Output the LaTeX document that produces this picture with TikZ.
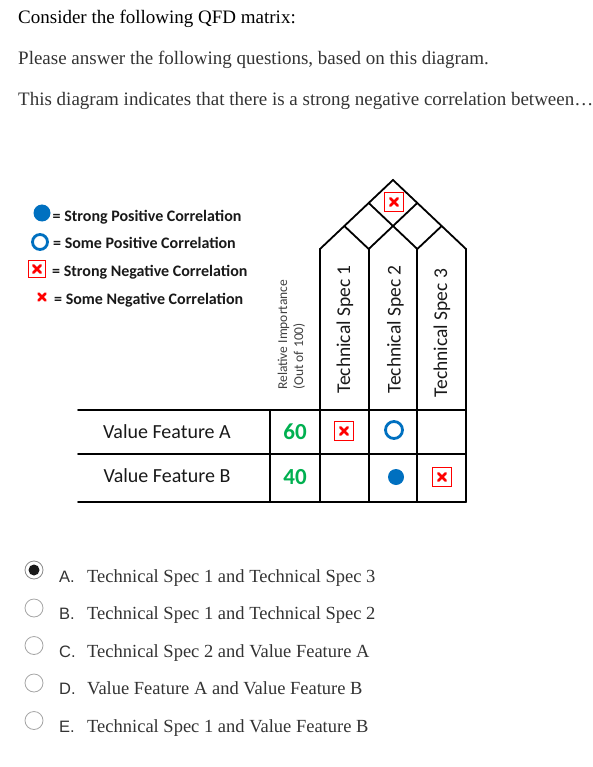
\documentclass[tikz,border=0pt]{standalone}
\usepackage{fontspec}
\setmainfont{Liberation Serif}
\newfontfamily\calib{Carlito}
\newfontfamily\arialf{Liberation Sans}
\definecolor{qblue}{HTML}{0070C0}
\definecolor{qred}{HTML}{FF0000}
\definecolor{qgreen}{HTML}{00B050}
\definecolor{qtext}{HTML}{333333}
\begin{document}
\begin{tikzpicture}[x=1pt,y=-1pt,
  grid/.style={line width=1.8pt, black, line cap=round, line join=miter},
  negbox/.style={draw=qred, line width=1.2pt, minimum width=#1, minimum height=#1, inner sep=0pt,
    path picture={\draw[qred, line width=2.8pt, line cap=round]
      ([shift={(-3.6pt,-3.6pt)}]path picture bounding box.center) -- ([shift={(3.6pt,3.6pt)}]path picture bounding box.center)
      ([shift={(-3.6pt,3.6pt)}]path picture bounding box.center) -- ([shift={(3.6pt,-3.6pt)}]path picture bounding box.center);}},
  negbox/.default=18pt,
  strongpos/.style={circle, fill=qblue, minimum size=16pt, inner sep=0pt},
  somepos/.style={circle, draw=qblue, line width=2.8pt, fill=white, minimum size=15pt, inner sep=0pt},
  qtxt/.style={anchor=base west, font=\fontsize{19}{22}\selectfont, text=qtext, inner sep=0pt},
  opttxt/.style={anchor=base west, font=\fontsize{18.5}{22}\selectfont, text=qtext, inner sep=0pt},
  optlet/.style={anchor=base west, font=\arialf\fontsize{16.5}{19}\selectfont, text=qtext, inner sep=0pt},
  radio/.style={circle, draw=black!35, line width=0.8pt, fill=white, minimum size=18pt, inner sep=0pt},
  legtxt/.style={anchor=west, font=\calib\bfseries\fontsize{16}{18}\selectfont, text=black!90, inner sep=0pt},
  spec/.style={rotate=90, font=\calib\fontsize{19.5}{22}\selectfont, text=black!90, inner sep=0pt},
  feat/.style={font=\calib\fontsize{20}{22}\selectfont, text=black!90, inner sep=0pt},
  num/.style={font=\calib\bfseries\fontsize{23}{26}\selectfont, text=qgreen, inner sep=0pt}]
\useasboundingbox (0,0) rectangle (592,767);

% question text
\node[qtxt, text=black] (q1) at (18,24) {Consider the following QFD matrix:};
\node[qtxt] (q2) at (18,65) {Please answer the following questions, based on this diagram.};
\node[qtxt] (q3) at (18,106) {This diagram indicates that there is a strong negative correlation between\ldots};

% legend
\node[strongpos, minimum size=17pt] (l1) at (42,213) {};
\node[legtxt] (t1) at (52.5,217) {= Strong Positive Correlation};
\node[somepos, minimum size=15pt] (l2) at (40,242) {};
\node[legtxt] (t2) at (53,243) {= Some Positive Correlation};
\node[negbox=17pt] (l3) at (37,269) {};
\node[legtxt] (t3) at (52,272) {= Strong Negative Correlation};
\node[inner sep=0pt, minimum size=10pt,
  path picture={\draw[qred, line width=2.8pt, line cap=round]
    ([shift={(-3.5pt,-3.5pt)}]path picture bounding box.center) -- ([shift={(3.5pt,3.5pt)}]path picture bounding box.center)
    ([shift={(-3.5pt,3.5pt)}]path picture bounding box.center) -- ([shift={(3.5pt,-3.5pt)}]path picture bounding box.center);}] (l4) at (42,297) {};
\node[legtxt] (t4) at (54,300) {= Some Negative Correlation};

% house of quality grid
\coordinate (b0) at (320,249);
\coordinate (b1) at (368.7,249);
\coordinate (b2) at (417.3,249);
\coordinate (b3) at (466,249);
\coordinate (p1) at (344.3,226);
\coordinate (p3) at (441.7,226);
\coordinate (m1) at (368.7,203);
\coordinate (m2) at (417.3,203);
\coordinate (apex) at (393,180);
\draw[grid] (320,502) -- (b0) -- (apex) -- (b3) -- (466,502);
\draw[grid] (368.7,502) -- (b1);
\draw[grid] (417.3,502) -- (b2);
\draw[grid] (p1) -- (b1) -- (m2);
\draw[grid] (m1) -- (b2) -- (p3);
\draw[grid] (78,410) -- (466,410);
\draw[grid] (78,454) -- (466,454);
\draw[grid] (78,502) -- (466,502);
\draw[grid] (270,410) -- (270,502);

% roof correlation
\node[negbox=19pt] (r13) at (394,202) {};

% headers
\node[spec] (s1) at (345,329.5) {Technical Spec 1};
\node[spec] (s2) at (395.5,329.5) {Technical Spec 2};
\node[spec] (s3) at (442,333) {Technical Spec 3};
\node[rotate=90, anchor=north west, align=left, font=\calib\fontsize{13.5}{16}\selectfont, text=black!75, inner sep=0pt] (ri) at (277.5,390) {Relative Importance\\(Out of 100)};

% rows
\node[feat] (fa) at (167,432) {Value Feature A};
\node[feat] (fb) at (167,476) {Value Feature B};
\node[num] (na) at (295,432) {60};
\node[num] (nb) at (295,477) {40};
\node[negbox=19pt] (xa1) at (344,431) {};
\node[somepos, minimum size=17pt] (oa2) at (394,430) {};
\node[strongpos] (fb2) at (396,477) {};
\node[negbox=19pt] (xb3) at (442,477) {};

% options
\node[radio, draw=black!45] (ra) at (34,570) {};
\node[circle, fill=black!90, minimum size=11pt, inner sep=0pt] (rad) at (ra) {};
\node[radio] (rb) at (34,608) {};
\node[radio] (rc) at (34,645.5) {};
\node[radio] (rd) at (34,683) {};
\node[radio] (re) at (34,720.5) {};
\node[optlet] (la) at (59,582) {A.};
\node[optlet] (lb) at (59,619.5) {B.};
\node[optlet] (lc) at (59,657) {C.};
\node[optlet] (ld) at (59,694.5) {D.};
\node[optlet] (le) at (59,732) {E.};
\node[opttxt] (oa) at (87,582) {Technical Spec 1 and Technical Spec 3};
\node[opttxt] (ob) at (87,619.5) {Technical Spec 1 and Technical Spec 2};
\node[opttxt] (oc) at (87,657) {Technical Spec 2 and Value Feature A};
\node[opttxt] (od) at (87,694.5) {Value Feature A and Value Feature B};
\node[opttxt] (oe) at (87,732) {Technical Spec 1 and Value Feature B};
\end{tikzpicture}
\end{document}
